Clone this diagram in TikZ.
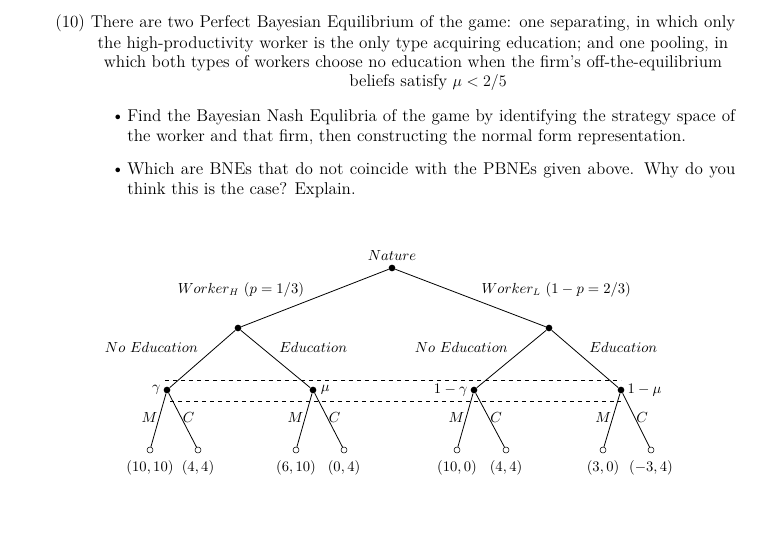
\documentclass[tikz,border=0pt]{standalone}
\usepackage{amsmath}
\usetikzlibrary{positioning}
\begin{document}
\begin{tikzpicture}[x=0.75pt,y=-0.75pt,
  tl/.style={anchor=base west,inner sep=0pt,font=\fontsize{12.8}{15}\selectfont},
  lab/.style={inner sep=1pt,font=\fontsize{10.7}{12}\selectfont},
  dec/.style={circle,fill=black,inner sep=0pt,minimum size=5pt},
  term/.style={circle,draw=black,fill=white,inner sep=0pt,minimum size=4.5pt},
  br/.style={black,line width=0.6pt}]
\useasboundingbox (0,0) rectangle (780,541);
% text
\node[tl] (t1) at (55,28) {\makebox[510pt][s]{(10) There are two Perfect Bayesian Equilibrium of the game: one separating, in which only}};
\node[tl,anchor=base] (t2) at (413,49) {the high-productivity worker is the only type acquiring education; and one pooling, in};
\node[tl,anchor=base] (t3) at (413,68) {which both types of workers choose no education when the firm's off-the-equilibrium};
\node[tl,anchor=base] (t4) at (428,87) {beliefs satisfy $\mu<2/5$};
\node[tl] (b1) at (111,122) {\textbullet};
\node[tl] (b1a) at (127,122) {\makebox[456pt][s]{Find the Bayesian Nash Equlibria of the game by identifying the strategy space of}};
\node[tl] (b1b) at (127,142) {the worker and that firm, then constructing the normal form representation.};
\node[tl] (b2) at (111,175) {\textbullet};
\node[tl] (b2a) at (127,175) {\makebox[456pt][s]{Which are BNEs that do not coincide with the PBNEs given above. Why do you}};
\node[tl] (b2b) at (127,195) {think this is the case? Explain.};
% tree nodes
\node[dec] (n) at (392,268) {};
\node[dec] (h) at (238,328) {};
\node[dec] (l) at (549,328) {};
\node[dec] (hn) at (167,390) {};
\node[dec] (he) at (313,390) {};
\node[dec] (ln) at (474,390) {};
\node[dec] (le) at (621,390) {};
\foreach \nm/\x in {a/150,b/198,c/296,d/344,e/457,f/506,g/603,k/651}{\node[term] (\nm) at (\x,450) {};}
\node[lab,above=2pt of n] (nl) {$Nature$};
% information set
\draw[dashed,line width=0.6pt] (165,380) -- (621,380);
\draw[dashed,line width=0.6pt] (170,401) -- (621,401);
% branches
\draw[br] (n) -- node[lab,pos=0.55,above left=2pt] {$Worker_H\ (p=1/3)$} (h);
\draw[br] (n) -- node[lab,pos=0.55,above right=2pt] {$Worker_L\ (1-p=2/3)$} (l);
\draw[br] (h) -- node[lab,pos=0.3,left=12pt] {$No\ Education$} (hn);
\draw[br] (h) -- node[lab,pos=0.3,right=12pt] {$Education$} (he);
\draw[br] (l) -- node[lab,pos=0.3,left=12pt] {$No\ Education$} (ln);
\draw[br] (l) -- node[lab,pos=0.3,right=12pt] {$Education$} (le);
\foreach \p/\m/\c in {hn/a/b,he/c/d,ln/e/f,le/g/k}{
  \draw[br] (\p) -- node[lab,pos=0.45,left] {$M$} (\m);
  \draw[br] (\p) -- node[lab,pos=0.45,right] {$C$} (\c);}
\node[lab,left=1pt of hn] (gl) {$\gamma$};
\node[lab,right=2pt of he] (ml) {$\mu$};
\node[lab,left=1pt of ln] (gl2) {$1-\gamma$};
\node[lab,right=1pt of le] (ml2) {$1-\mu$};
\foreach \nm/\t in {a/{(10,10)},b/{(4,4)},c/{(6,10)},d/{(0,4)},e/{(10,0)},f/{(4,4)},g/{(3,0)},k/{(-3,4)}}{
  \node[lab,below=4.5pt of \nm] (p\nm) {$\t$};}
\end{tikzpicture}
\end{document}
